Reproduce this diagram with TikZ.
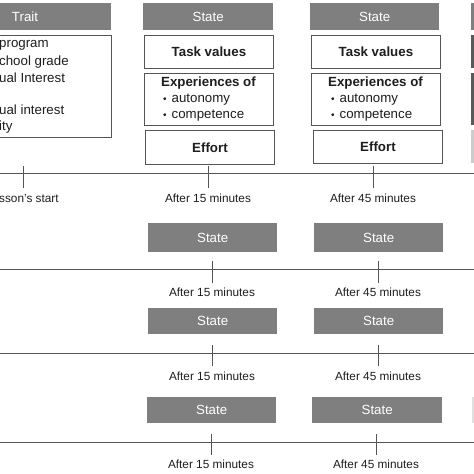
\documentclass[tikz,border=0pt]{standalone}
\usepackage{fontspec}
\setmainfont{Liberation Sans}
\definecolor{boxgray}{HTML}{7F7F7F}
\definecolor{linegray}{HTML}{555555}
\definecolor{txt}{HTML}{1E1E1E}
\newcommand{\fsz}{\fontsize{13.3}{15}\selectfont}
\newcommand{\mybul}{{\fontsize{10}{12}\selectfont\textbullet}\hspace{5pt}}
\begin{document}
\begin{tikzpicture}[x=1pt,y=-1pt,
  graybox/.style={fill=boxgray,draw=none,text=white,font=\fsz,anchor=north west,inner sep=0pt},
  graytxt/.style={text=white,font=\fsz,inner sep=0pt},
  whitebox/.style={draw=linegray,line width=0.9pt,fill=white,anchor=north west,inner sep=0pt,text=txt,font=\bfseries\fsz},
  plain/.style={text=txt,font=\fsz,anchor=west,inner sep=0pt},
  lbl/.style={text=txt,font=\fontsize{11.8}{13}\selectfont,inner sep=0pt},
  tl/.style={draw=linegray,line width=0.8pt},
  tick/.style={draw=linegray,line width=0.8pt}]
\useasboundingbox (0,0) rectangle (474,474);
\fill[white] (0,0) rectangle (474,474);
% Trait column
\node[graybox,minimum width=151pt,minimum height=27pt] (trait) at (-40,3) {};
\node[graytxt] (traittxt) at (25,16.5) {Trait};
\node[whitebox,minimum width=151pt,minimum height=102pt] (traitbox) at (-40,35) {};
\node[plain] (t1) at (-1,45) {program};
\node[plain] (t2) at (-1,62) {chool grade};
\node[plain] (t3) at (-1,78) {ual Interest};
\node[plain] (t4) at (-1,110) {ual interest};
\node[plain] (t5) at (-1,127) {ity};
% Column 1
\node[graybox,minimum width=130pt,minimum height=27pt] (s1) at (143,3) {};
\node[graytxt] at (s1.center) {State};
\node[whitebox,minimum width=129pt,minimum height=33pt] (tv1) at (144,35) {Task values};
\node[whitebox,minimum width=129pt,minimum height=52pt] (ex1) at (144,73) {};
\node[plain,font=\bfseries\fsz] (ex1a) at (161,83.5) {Experiences of};
\node[plain] (ex1b) at (163,100) {\mybul autonomy};
\node[plain] (ex1c) at (163,116) {\mybul competence};
\node[whitebox,minimum width=129pt,minimum height=34pt] (ef1) at (145,130) {Effort};
% Column 2
\node[graybox,minimum width=129pt,minimum height=27pt] (s2) at (310,3) {};
\node[graytxt] at (s2.center) {State};
\node[whitebox,minimum width=129pt,minimum height=33pt] (tv2) at (311,35) {Task values};
\node[whitebox,minimum width=129pt,minimum height=52pt] (ex2) at (311,73) {};
\node[plain,font=\bfseries\fsz] (ex2a) at (328,83.5) {Experiences of};
\node[plain] (ex2b) at (331,100) {\mybul autonomy};
\node[plain] (ex2c) at (331,116) {\mybul competence};
\node[whitebox,minimum width=129pt,minimum height=33pt] (ef2) at (313,130) {Effort};
% Column 3 slivers
\fill[boxgray] (471,3) rectangle (480,30);
\fill[black!65] (471,35) rectangle (480,68);
\fill[black!65] (471,73) rectangle (480,125);
\fill[black!20] (471,130) rectangle (480,163);
\fill[black!12] (472,397) rectangle (480,423);
% Row 1 timeline
\coordinate (L1) at (0,173); \coordinate (R1) at (474,173);
\draw[tl] (L1) -- (R1);
\coordinate (k10a) at (23,166); \coordinate (k10b) at (23,188);
\coordinate (k11a) at (208,166); \coordinate (k11b) at (208,188);
\coordinate (k12a) at (373,166); \coordinate (k12b) at (373,188);
\draw[tick] (k10a) -- (k10b); \draw[tick] (k11a) -- (k11b); \draw[tick] (k12a) -- (k12b);
\node[lbl,anchor=west] (ls) at (-1,198) {sson's start};
\node[lbl] (a11) at (208,198) {After 15 minutes};
\node[lbl] (a12) at (373,198) {After 45 minutes};
% Row 2
\node[graybox,minimum width=129pt,minimum height=29pt] (s21) at (148,223) {};
\node[graytxt] at (s21.center) {State};
\node[graybox,minimum width=129pt,minimum height=29pt] (s22) at (314,223) {};
\node[graytxt] at (s22.center) {State};
\coordinate (L2) at (0,269); \coordinate (R2) at (474,269);
\draw[tl] (L2) -- (R2);
\coordinate (k21a) at (212,261); \coordinate (k21b) at (212,283);
\coordinate (k22a) at (378,261); \coordinate (k22b) at (378,283);
\draw[tick] (k21a) -- (k21b); \draw[tick] (k22a) -- (k22b);
\node[lbl] (a21) at (212,292) {After 15 minutes};
\node[lbl] (a22) at (378,292) {After 45 minutes};
% Row 3
\node[graybox,minimum width=129pt,minimum height=26pt] (s31) at (148,308) {};
\node[graytxt] at (s31.center) {State};
\node[graybox,minimum width=129pt,minimum height=26pt] (s32) at (314,308) {};
\node[graytxt] at (s32.center) {State};
\coordinate (L3) at (0,353); \coordinate (R3) at (474,353);
\draw[tl] (L3) -- (R3);
\coordinate (k31a) at (212,345); \coordinate (k31b) at (212,366);
\coordinate (k32a) at (378,345); \coordinate (k32b) at (378,366);
\draw[tick] (k31a) -- (k31b); \draw[tick] (k32a) -- (k32b);
\node[lbl] (a31) at (212,376) {After 15 minutes};
\node[lbl] (a32) at (378,376) {After 45 minutes};
% Row 4
\node[graybox,minimum width=129pt,minimum height=26pt] (s41) at (147,397) {};
\node[graytxt] at (s41.center) {State};
\node[graybox,minimum width=130pt,minimum height=26pt] (s42) at (312,397) {};
\node[graytxt] at (s42.center) {State};
\coordinate (L4) at (0,442); \coordinate (R4) at (474,442);
\draw[tl] (L4) -- (R4);
\coordinate (k41a) at (211,434); \coordinate (k41b) at (211,455);
\coordinate (k42a) at (376,434); \coordinate (k42b) at (376,455);
\draw[tick] (k41a) -- (k41b); \draw[tick] (k42a) -- (k42b);
\node[lbl] (a41) at (211,464) {After 15 minutes};
\node[lbl] (a42) at (376,464) {After 45 minutes};
\end{tikzpicture}
\end{document}
